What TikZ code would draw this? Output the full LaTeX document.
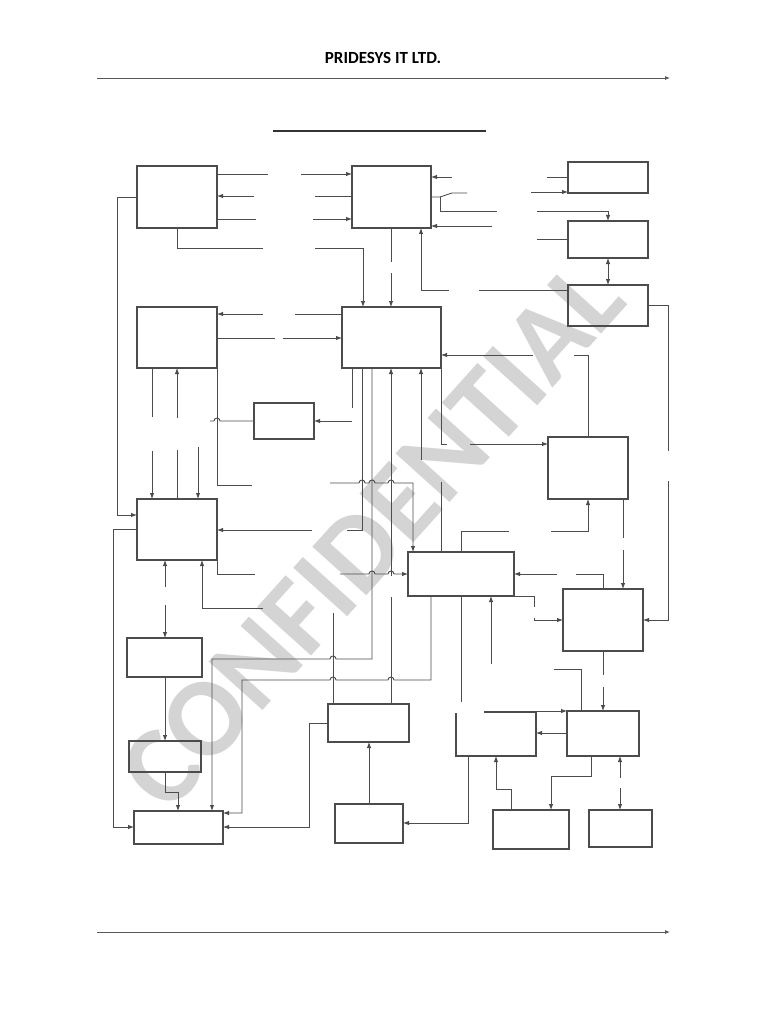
\documentclass[tikz,border=0pt]{standalone}
\usepackage{fontspec}
\usetikzlibrary{arrows.meta}
\newfontfamily\hdrfont{Carlito}
\begin{document}
\begin{tikzpicture}[x=1pt,y=1pt,
  box/.style={draw=black!70, line width=1.1pt, inner sep=0pt, outer sep=0pt},
  ln/.style={draw=black!70, line width=0.9pt},
  ar/.style={ln, -{Latex[length=6pt,width=4.5pt]}},
  dar/.style={ln, {Latex[length=6pt,width=4.5pt]}-{Latex[length=6pt,width=4.5pt]}}]
\useasboundingbox[fill=white] (0,0) rectangle (768,-1024);
% watermark
\node[rotate=48, text=black!17, font=\fontsize{112}{112}\selectfont\hdrfont\bfseries] (wm) at (372,-535) {CONFIDENTIAL};
% header
\node[font=\fontsize{17}{17}\selectfont\hdrfont\bfseries] (title) at (383,-58) {PRIDESYS IT LTD.};
\coordinate (h1) at (97,-78); \coordinate (h2) at (670,-78);
\draw[black!65, line width=0.9pt, -{Latex[length=5pt,width=4pt]}] (h1) -- (h2);
\coordinate (u1) at (273,-131); \coordinate (u2) at (486,-131);
\draw[black!80, line width=2pt] (u1) -- (u2);
\coordinate (f1) at (97,-932); \coordinate (f2) at (670,-932);
\draw[black!65, line width=0.9pt, -{Latex[length=5pt,width=4pt]}] (f1) -- (f2);
% boxes
\node[box, minimum width=80pt, minimum height=62pt] (b1) at (177,-197) {};
\node[box, minimum width=79pt, minimum height=62pt] (b2) at (391.5,-197) {};
\node[box, minimum width=80pt, minimum height=31pt] (b3) at (608,-177.5) {};
\node[box, minimum width=80pt, minimum height=37pt] (b4) at (608,-239.5) {};
\node[box, minimum width=80pt, minimum height=41pt] (b5) at (608,-305.5) {};
\node[box, minimum width=80pt, minimum height=61pt] (b6) at (177,-337.5) {};
\node[box, minimum width=99pt, minimum height=61pt] (b7) at (391.5,-337.5) {};
\node[box, minimum width=60pt, minimum height=36pt] (b8) at (284,-421) {};
\node[box, minimum width=80pt, minimum height=62pt] (b9) at (588,-468) {};
\node[box, minimum width=80pt, minimum height=61pt] (b10) at (177,-529.5) {};
\node[box, minimum width=106pt, minimum height=44pt] (b11) at (461,-574) {};
\node[box, minimum width=80pt, minimum height=62pt] (b12) at (603,-620) {};
\node[box, minimum width=75pt, minimum height=39pt] (b13) at (164.5,-657.5) {};
\node[box, minimum width=72pt, minimum height=31pt] (b14) at (165,-756.5) {};
\node[box, minimum width=89pt, minimum height=33pt] (b15) at (178.5,-827.5) {};
\node[box, minimum width=81pt, minimum height=38pt] (b16) at (368.5,-723) {};
\node[box, minimum width=68pt, minimum height=39pt] (b17) at (369,-823.5) {};
\node[inner sep=0pt, outer sep=0pt, minimum width=80pt, minimum height=44pt] (b18) at (496,-734) {};
\draw[draw=black!70, line width=1.1pt] (484,-712) -- (b18.north east) -- (b18.south east) -- (b18.south west) -- (456,-713);
\node[box, minimum width=72pt, minimum height=45pt] (b19) at (603,-733.5) {};
\node[box, minimum width=76pt, minimum height=39pt] (b20) at (531,-829.5) {};
\node[box, minimum width=63pt, minimum height=37pt] (b21) at (620.5,-828.5) {};
% connectors top row
\draw[ln] (b1.east |- 0,-174) -- (268,-174);
\draw[ar] (301,-174) -- (b2.west |- 0,-174);
\draw[ar] (254,-196) -- (b1.east |- 0,-196);
\draw[ln] (315,-196) -- (b2.west |- 0,-196);
\draw[ln] (b1.east |- 0,-219) -- (256,-219);
\draw[ar] (313,-219) -- (b2.west |- 0,-219);
\draw[ln] (b1.south) -- (177,-248) -- (263,-248);
\draw[ar] (315,-248) -- (363,-248) -- (b7.north -| 363,0);
\draw[ar] (b1.west |- 0,-197) -- (117,-197) -- (117,-515) -- (b10.west |- 0,-515);
\draw[ar] (452,-177) -- (b2.east |- 0,-177);
\draw[ln] (b2.east |- 0,-197) -- (440,-197) -- (452,-193) -- (467,-193);
\draw[ln] (440,-197) -- (440,-211) -- (497,-211);
\draw[ar] (537,-211) -- (608,-211) -- (b4.north);
\draw[ar] (492,-226) -- (b2.east |- 0,-226);
\draw[ln] (b2.south -| 391,0) -- (391,-262);
\draw[ar] (391,-273) -- (b7.north -| 391,0);
\draw[ln] (b5.west |- 0,-290) -- (479,-290);
\draw[ar] (449,-290) -- (421,-290) -- (b2.south -| 421,0);
\draw[ln] (547,-177) -- (b3.west |- 0,-177);
\draw[ar] (531,-192) -- (b3.west |- 0,-192);
\draw[ln] (537,-239) -- (b4.west |- 0,-239);
\draw[dar] (b4.south) -- (b5.north);
\draw[ln] (b5.east |- 0,-305) -- (668,-305) -- (668,-451);
\draw[ar] (668,-481) -- (668,-620) -- (b12.east |- 0,-620);
% second row
\draw[ln] (b7.west |- 0,-314) -- (295,-314);
\draw[ar] (263,-314) -- (b6.east |- 0,-314);
\draw[ln] (b6.east |- 0,-338) -- (275,-338);
\draw[ar] (283,-338) -- (b7.west |- 0,-338);
\draw[ln] (b6.south -| 152,0) -- (152,-417);
\draw[ar] (152,-451) -- (b10.north -| 152,0);
\draw[ar] (177,-418) -- (b6.south -| 177,0);
\draw[ln] (177,-450) -- (b10.north -| 177,0);
\draw[ar] (198,-447) -- (b10.north -| 198,0);
\draw[ln] (b6.south east) -- (217,-485) -- (252,-485);
\draw[ln] (b8.west) -- (220,-421) arc[start angle=0,end angle=180,radius=3pt] -- (210,-421);
\draw[ln] (b7.south -| 352,0) -- (352,-408);
\draw[ar] (352,-421) -- (b8.east);
\draw[ln] (b9.north -| 588,0) -- (588,-355) -- (574,-355);
\draw[ar] (533,-355) -- (b7.east |- 0,-355);
\draw[ln] (b7.south -| 362,0) -- (362,-530) -- (347,-530);
\draw[ar] (312,-530) -- (b10.east |- 0,-530);
\draw[ar] (b7.south -| 372,0) -- (372,-659) -- (336,-659) arc[start angle=0,end angle=180,radius=3pt] -- (212,-659) -- (b15.north -| 212,0);
\draw[ln] (b16.north -| 391,0) -- (391,-597);
\draw[ar] (391,-576) -- (b7.south -| 391,0);
\draw[ar] (421,-460) -- (b7.south -| 421,0);
\draw[ln] (b7.south east) -- (441,-444) -- (447,-444);
\draw[ar] (470,-444) -- (b9.west |- 0,-444);
\draw[ln] (441,-482) -- (b11.north -| 441,0);
\draw[ar] (330,-483) -- (359,-483) arc[start angle=180,end angle=0,radius=3pt] -- (369,-483) arc[start angle=180,end angle=0,radius=3pt] -- (388,-483) arc[start angle=180,end angle=0,radius=3pt] -- (413,-483) -- (b11.north -| 413,0);
\draw[ln] (b11.north -| 461,0) -- (461,-531) -- (509,-531);
\draw[ar] (551,-531) -- (588,-531) -- (b9.south -| 588,0);
\draw[ln] (b9.south -| 623,0) -- (623,-538);
\draw[ar] (623,-550) -- (b12.north -| 623,0);
\draw[ln] (b12.north -| 603,0) -- (603,-574) -- (576,-574);
\draw[ar] (557,-574) -- (b11.east |- 0,-574);
\draw[ln] (b11.south east) -- (534,-596) -- (534,-607);
\draw[ar] (534,-618) -- (534,-620) -- (b12.west |- 0,-620);
\draw[ln] (b12.south) -- (603,-675);
\draw[ar] (603,-687) -- (b19.north);
\draw[ln] (554,-669) -- (581,-669) -- (b19.north -| 581,0);
\draw[ln] (b10.south east) -- (217,-574) -- (255,-574);
\draw[ar] (340,-574) -- (369,-574) arc[start angle=180,end angle=0,radius=3pt] -- (388,-574) arc[start angle=180,end angle=0,radius=3pt] -- (b11.west |- 0,-574);
\draw[ar] (b11.south -| 431,0) -- (431,-680) -- (394,-680) arc[start angle=0,end angle=180,radius=3pt] -- (336,-680) arc[start angle=0,end angle=180,radius=3pt] -- (242,-680) -- (242,-813) -- (b15.east |- 0,-813);
\draw[ln] (b11.south -| 461,0) -- (461,-702);
\draw[ar] (491,-664) -- (b11.south -| 491,0);
\draw[ln] (b16.north -| 333,0) -- (333,-613);
% left column
\draw[ar] (b10.west |- 0,-529) -- (113,-529) -- (113,-827) -- (b15.west |- 0,-827);
\draw[ar] (165,-587) -- (b10.south -| 165,0);
\draw[ar] (165,-605) -- (b13.north -| 165,0);
\draw[ar] (263,-608) -- (202,-608) -- (b10.south -| 202,0);
\draw[ar] (b13.south -| 165,0) -- (b14.north -| 165,0);
\draw[ar] (b14.south -| 165,0) -- (165,-792) -- (178,-792) -- (b15.north -| 178,0);
\draw[ar] (b16.west |- 0,-723) -- (309,-723) -- (309,-827) -- (b15.east |- 0,-827);
% bottom
\draw[ar] (b17.north) -- (b16.south -| b17.north);
\draw[ar] (b18.south -| 468,0) -- (468,-823) -- (b17.east |- 0,-823);
\draw[ar] (484,-711) -- (b19.west |- 0,-711);
\draw[ar] (b19.west |- 0,-733) -- (b18.east |- 0,-733);
\draw[ar] (b20.north -| 511,0) -- (511,-789) -- (496,-789) -- (b18.south -| 496,0);
\draw[ar] (b19.south -| 591,0) -- (591,-776) -- (551,-776) -- (b20.north -| 551,0);
\draw[ar] (620,-778) -- (b19.south -| 620,0);
\draw[ar] (620,-788) -- (b21.north -| 620,0);
\end{tikzpicture}
\end{document}
